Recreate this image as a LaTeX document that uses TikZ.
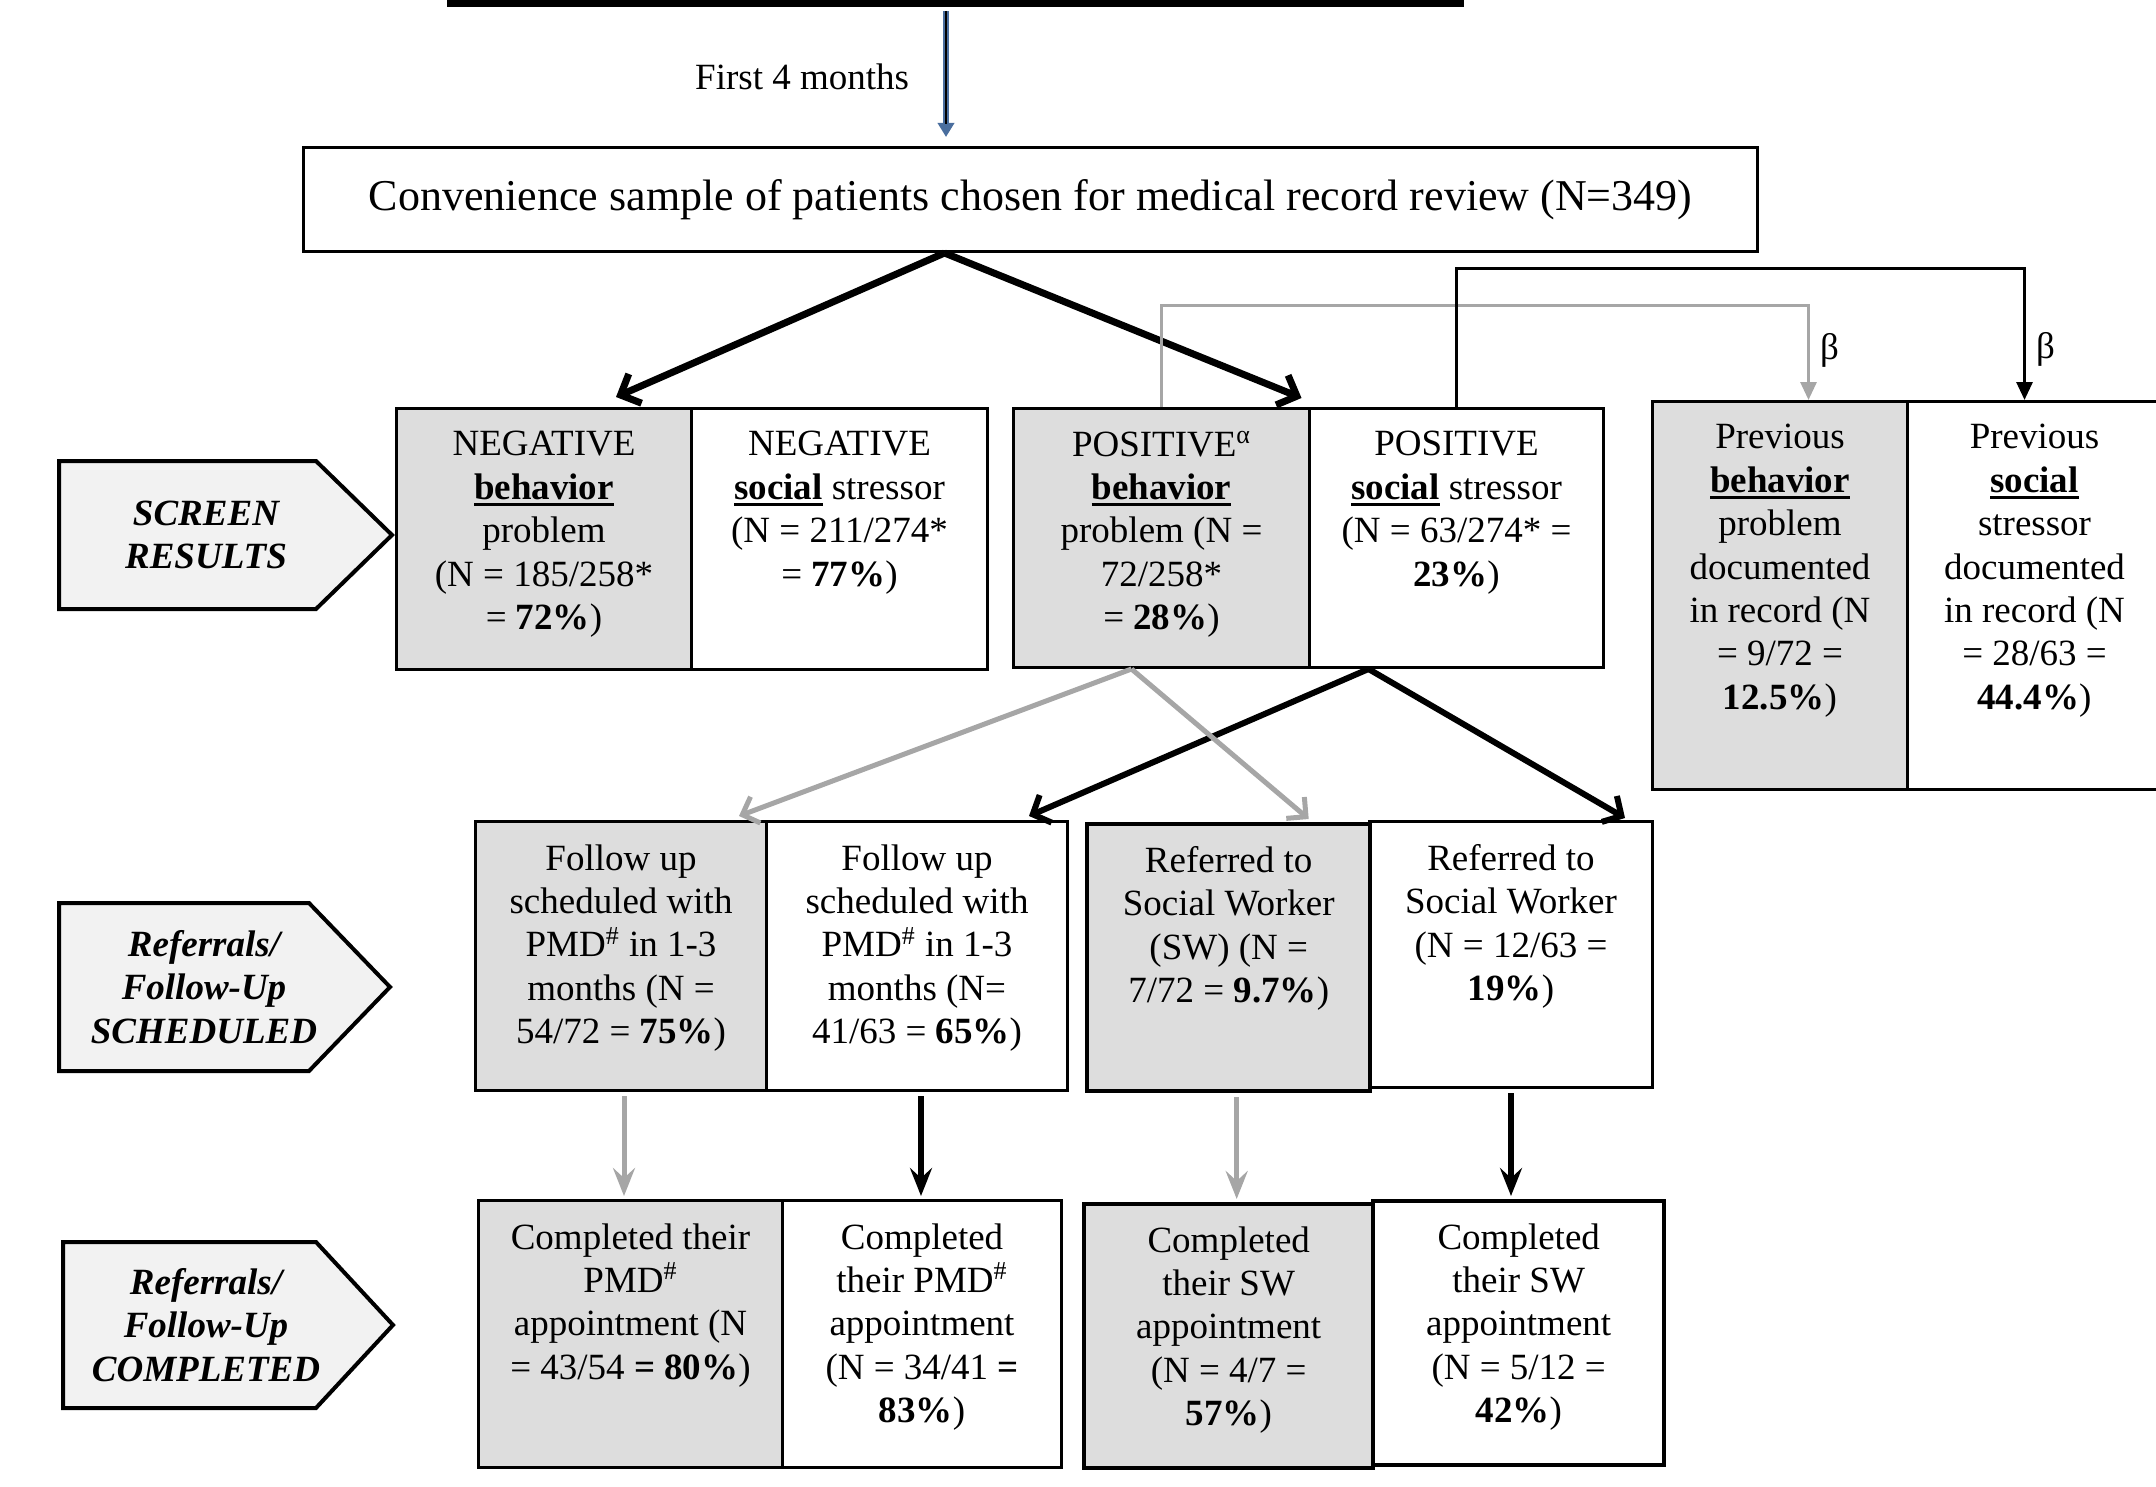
\documentclass[tikz,border=0pt]{standalone}
\usepackage{fontspec}
\setmainfont{Liberation Serif}
\usetikzlibrary{positioning,arrows.meta}

\definecolor{boxgray}{HTML}{DDDDDD}
\definecolor{taggray}{HTML}{F2F2F2}
\definecolor{linegray}{HTML}{A6A6A6}
\definecolor{arrowblue}{HTML}{4A6E9E}

\newcommand{\cellfont}{\fontsize{18.5}{21.7}\selectfont}
\newcommand{\ubold}[1]{\setbox0=\hbox{\textbf{#1}}\rlap{\rule[-3.2pt]{\wd0}{1.5pt}}\box0\relax}

\tikzset{
  cell/.style 2 args={draw, line width=1.5pt, anchor=north west, minimum width=#1, minimum height=#2, inner sep=0pt},
  graycell/.style={fill=boxgray},
  thickcell/.style={line width=2.2pt},
  txt/.style={align=center, inner sep=0pt, font=\cellfont},
  tag/.style={draw, line width=2pt, fill=taggray},
  tagtxt/.style={align=center, inner sep=0pt, font=\cellfont\bfseries\itshape},
  bigarr/.style={line width=3.5pt, -{Straight Barb[length=8pt,width=16pt]}},
  grayarr/.style={linegray, line width=2.5pt, -{Straight Barb[length=7pt,width=14pt]}},
  blackarr/.style={line width=3pt, -{Straight Barb[length=7pt,width=15pt]}},
  grayvert/.style={linegray, line width=2.5pt, -{Stealth[length=14pt,width=11pt,inset=5pt]}, shorten <=2pt, shorten >=1.5pt},
  blackvert/.style={line width=3pt, -{Stealth[length=14pt,width=11pt,inset=5pt]}, shorten <=2pt, shorten >=1.5pt},
  grayelbow/.style={linegray, line width=1.5pt, -{Triangle[length=9pt,width=8pt]}},
  blackelbow/.style={line width=1.5pt, -{Triangle[length=9pt,width=8pt]}},
  betatxt/.style={inner sep=0pt, font=\cellfont, text=black}
}

\begin{document}
\begin{tikzpicture}[x=0.5pt, y=-0.5pt]
\useasboundingbox (0,0) rectangle (2156,1487);
\clip (0,0) rectangle (2156,1487);

% top of the chart (cut off)
\node[cell={504.5pt}{60pt}, line width=4pt, anchor=south] (tops) at (955.5,7) {};
\node[cell={727pt}{52pt}, font=\fontsize{22}{26}\selectfont] (sample) at (302,146) {Convenience sample of patients chosen for medical record review (N=349)};

\draw[arrowblue, line width=3pt, shorten <=2pt, shorten >=4.5pt, -{Triangle[length=7pt,width=8pt]}] ([xshift=-4.75pt]tops.south) -- ([xshift=-4.75pt]tops.south |- sample.north) node[midway, left=17pt, txt, text=black] (firstmonths) {First 4 months};
\draw[line width=1.1pt, shorten <=2pt, shorten >=11pt] ([xshift=-4.75pt]tops.south) -- ([xshift=-4.75pt]tops.south |- sample.north);

% row tags
\draw[tag] (59,461) -- (316,461) -- (392,535) -- (316,609) -- (59,609) -- cycle;
\node[tagtxt] (screentag) at (206,535) {SCREEN\\RESULTS};
\draw[tag] (59,903) -- (309,903) -- (390,987) -- (309,1071) -- (59,1071) -- cycle;
\node[tagtxt] (schedtag) at (204,987) {Referrals/\\Follow-Up\\SCHEDULED};
\draw[tag] (63,1242) -- (316,1242) -- (393,1325) -- (316,1408) -- (63,1408) -- cycle;
\node[tagtxt] (donetag) at (206,1325) {Referrals/\\Follow-Up\\COMPLETED};

% screen results
\node[cell={147.5pt}{130.5pt}, graycell] (negbeh) at (395,407) {};
\node[cell={148pt}{130.5pt}] (negsoc) at (690,407) {};
\node[cell={148pt}{129.5pt}, graycell] (posbeh) at (1012,407) {};
\node[cell={147pt}{129.5pt}] (possoc) at (1308,407) {};
\node[cell={127.5pt}{194pt}, graycell] (prevbeh) at (1651,400) {};
\node[cell={135pt}{194pt}] (prevsoc) at (1906,400) {};

\node[txt, below=12pt of negbeh.north] (negbehtxt) {NEGATIVE\\\ubold{behavior}\\problem\\(N = 185/258*\\= \textbf{72\%})};
\node[txt, below=12pt of negsoc.north] (negsoctxt) {NEGATIVE\\\ubold{social} stressor\\(N = 211/274*\\= \textbf{77\%})};
\node[txt, below=12pt of posbeh.north] (posbehtxt) {POSITIVE\textsuperscript{α}\\\ubold{behavior}\\problem (N =\\72/258*\\= \textbf{28\%})};
\node[txt, below=12pt of possoc.north] (possoctxt) {POSITIVE\\\ubold{social} stressor\\(N = 63/274* =\\\textbf{23\%})};
\node[txt, below=12pt of prevbeh.north] (prevbehtxt) {Previous\\\ubold{behavior}\\problem\\documented\\in record (N\\= 9/72 =\\\textbf{12.5\%})};
\node[txt, below=12pt of prevsoc.north, xshift=-4pt] (prevsoctxt) {Previous\\\ubold{social}\\stressor\\documented\\in record (N\\= 28/63 =\\\textbf{44.4\%})};

% scheduled
\node[cell={145.5pt}{134.5pt}, graycell] (fubeh) at (474,820) {};
\node[cell={150.5pt}{134.5pt}] (fusoc) at (765,820) {};
\node[cell={141.5pt}{133.5pt}, graycell, thickcell] (swbeh) at (1085,822) {};
\node[cell={141.5pt}{133pt}] (swsoc) at (1368,820) {};

\node[txt, below=12pt of fubeh.north] (fubehtxt) {Follow up\\scheduled with\\PMD\textsuperscript{\#} in 1-3\\months (N =\\54/72 = \textbf{75\%})};
\node[txt, below=12pt of fusoc.north] (fusoctxt) {Follow up\\scheduled with\\PMD\textsuperscript{\#} in 1-3\\months (N=\\41/63 = \textbf{65\%})};
\node[txt, below=12pt of swbeh.north] (swbehtxt) {Referred to\\Social Worker\\(SW) (N =\\7/72 = \textbf{9.7\%})};
\node[txt, below=12pt of swsoc.north] (swsoctxt) {Referred to\\Social Worker\\(N = 12/63 =\\\textbf{19\%})};

% completed
\node[cell={152pt}{133.5pt}, graycell] (cpbeh) at (477,1199) {};
\node[cell={139.5pt}{133.5pt}] (cpsoc) at (781,1199) {};
\node[cell={144.5pt}{132pt}, graycell, thickcell] (cswbeh) at (1082,1202) {};
\node[cell={145.5pt}{132pt}, thickcell] (cswsoc) at (1371,1199) {};

\node[txt, below=12pt of cpbeh.north] (cpbehtxt) {Completed their\\PMD\textsuperscript{\#}\\appointment (N\\= 43/54 \textbf{= 80\%})};
\node[txt, below=12pt of cpsoc.north] (cpsoctxt) {Completed\\their PMD\textsuperscript{\#}\\appointment\\(N = 34/41 \textbf{=}\\\textbf{83\%})};
\node[txt, below=12pt of cswbeh.north] (cswbehtxt) {Completed\\their SW\\appointment\\(N = 4/7 =\\\textbf{57\%})};
\node[txt, below=12pt of cswsoc.north] (cswsoctxt) {Completed\\their SW\\appointment\\(N = 5/12 =\\\textbf{42\%})};

% connectors
\draw[bigarr] ([xshift=-43pt]sample.south) -- ([shift={(36pt,5pt)}]negbeh.north);
\draw[bigarr] ([xshift=-43pt]sample.south) -- ([shift={(70pt,4.5pt)}]posbeh.north);

\draw[grayelbow] (posbeh.north) -- ++(0,-102) -| node[pos=0.74, right=5pt, betatxt] (betabeh) {β} ([xshift=14.25pt]prevbeh.north);
\draw[blackelbow] (possoc.north) -- ++(0,-139) -| node[pos=0.81, right=5pt, betatxt] (betasoc) {β} ([xshift=-9pt]prevsoc.north);

\draw[blackarr] ([xshift=-44pt]possoc.south) -- ([shift={(56pt,2pt)}]fusoc.north);
\draw[blackarr] ([xshift=-44pt]possoc.south) -- ([shift={(57pt,1pt)}]swsoc.north);
\draw[grayarr] ([xshift=-15pt]posbeh.south) -- ([shift={(59pt,2pt)}]fubeh.north);
\draw[grayarr] ([xshift=-15pt]posbeh.south) -- ([shift={(40pt,1.5pt)}]swbeh.north);

\draw[grayvert] ([xshift=1.5pt]fubeh.south) -- ([xshift=1.5pt]fubeh.south |- cpbeh.north);
\draw[blackvert] ([xshift=2pt]fusoc.south) -- ([xshift=2pt]fusoc.south |- cpsoc.north);
\draw[grayvert] ([xshift=4pt]swbeh.south) -- ([xshift=4pt]swbeh.south |- cswbeh.north);
\draw[blackvert] (swsoc.south) -- (swsoc.south |- cswsoc.north);
\end{tikzpicture}
\end{document}
